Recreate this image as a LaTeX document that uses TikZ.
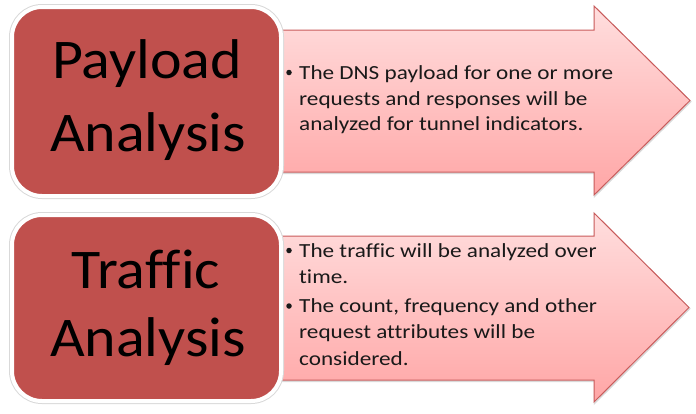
\documentclass[tikz,border=0pt]{standalone}
\usepackage{fontspec}
\setmainfont{Carlito}[Ligatures=NoCommon]
\newfontfamily\bigfont{Carlito}[FakeStretch=1.07,Ligatures=NoCommon]
\newfontfamily\bulfont{Carlito}[FakeStretch=1.16,Ligatures=NoCommon]
\usetikzlibrary{calc}
\definecolor{boxred}{HTML}{C0504D}
\definecolor{arrtop}{HTML}{FFDEDE}
\definecolor{arrbot}{HTML}{FFA6A6}
\definecolor{arredge}{HTML}{C95B5B}
\tikzset{
  arrowshape/.style={draw=arredge, line width=1pt, top color=arrtop, bottom color=arrbot, shading angle=0,
    preaction={draw=black!15, line width=1.6pt, transform canvas={xshift=0.6pt,yshift=-1.2pt}}},
  redbox/.style={rectangle, rounded corners=30pt, fill=boxred, draw=white, line width=4pt,
    minimum width=269pt, inner sep=0pt,
    preaction={draw=black!15, line width=6pt}},
  bigtext/.style={anchor=base, inner sep=0pt, font=\bigfont\fontsize{56}{60}\selectfont},
  bultext/.style={anchor=base west, inner sep=0pt, font=\bulfont\fontsize{20}{24}\selectfont, text=black!90},
  bulletdot/.style={circle, fill=black!90, inner sep=0pt, minimum size=5.5pt}
}
\begin{document}
\begin{tikzpicture}[x=1pt,y=-1pt]
\useasboundingbox (0,0) rectangle (696,413);
% arrows
\path[arrowshape] (270,30) -- (594,30) -- (594,6) -- (690,100.5) -- (594,195) -- (594,172) -- (270,172) -- cycle;
\path[arrowshape] (270,236) -- (594,236) -- (594,213) -- (689,307.5) -- (594,402) -- (594,380) -- (270,380) -- cycle;
% boxes
\node[redbox, minimum height=189pt] (payload) at (146.5,101.5) {};
\node[redbox, minimum height=186pt] (traffic) at (146.5,308) {};
% box titles
\node[bigtext] (p1) at (147,78.3) {Payload};
\node[bigtext] (p2) at (148,151.7) {Analysis};
\node[bigtext] (t1) at (146,288.3) {Traffic};
\node[bigtext] (t2) at (148,356.7) {Analysis};
% bullet text top
\node[bulletdot] (b1) at (289,72.5) {};
\node[bultext] (l1) at (299,79.3) {The DNS payload for one or more};
\node[bultext] (l2) at (299,105) {requests and responses will be};
\node[bultext] (l3) at (299,130.5) {analyzed for tunnel indicators.};
% bullet text bottom
\node[bulletdot] (b2) at (289,250.5) {};
\node[bultext] (m1) at (299,257.3) {The traffic will be analyzed over};
\node[bultext] (m2) at (299,283.3) {time.};
\node[bulletdot] (b3) at (289,306) {};
\node[bultext] (m3) at (299,312.7) {The count, frequency and other};
\node[bultext] (m4) at (299,338) {request attributes will be};
\node[bultext] (m5) at (299,365) {considered.};
\end{tikzpicture}
\end{document}
